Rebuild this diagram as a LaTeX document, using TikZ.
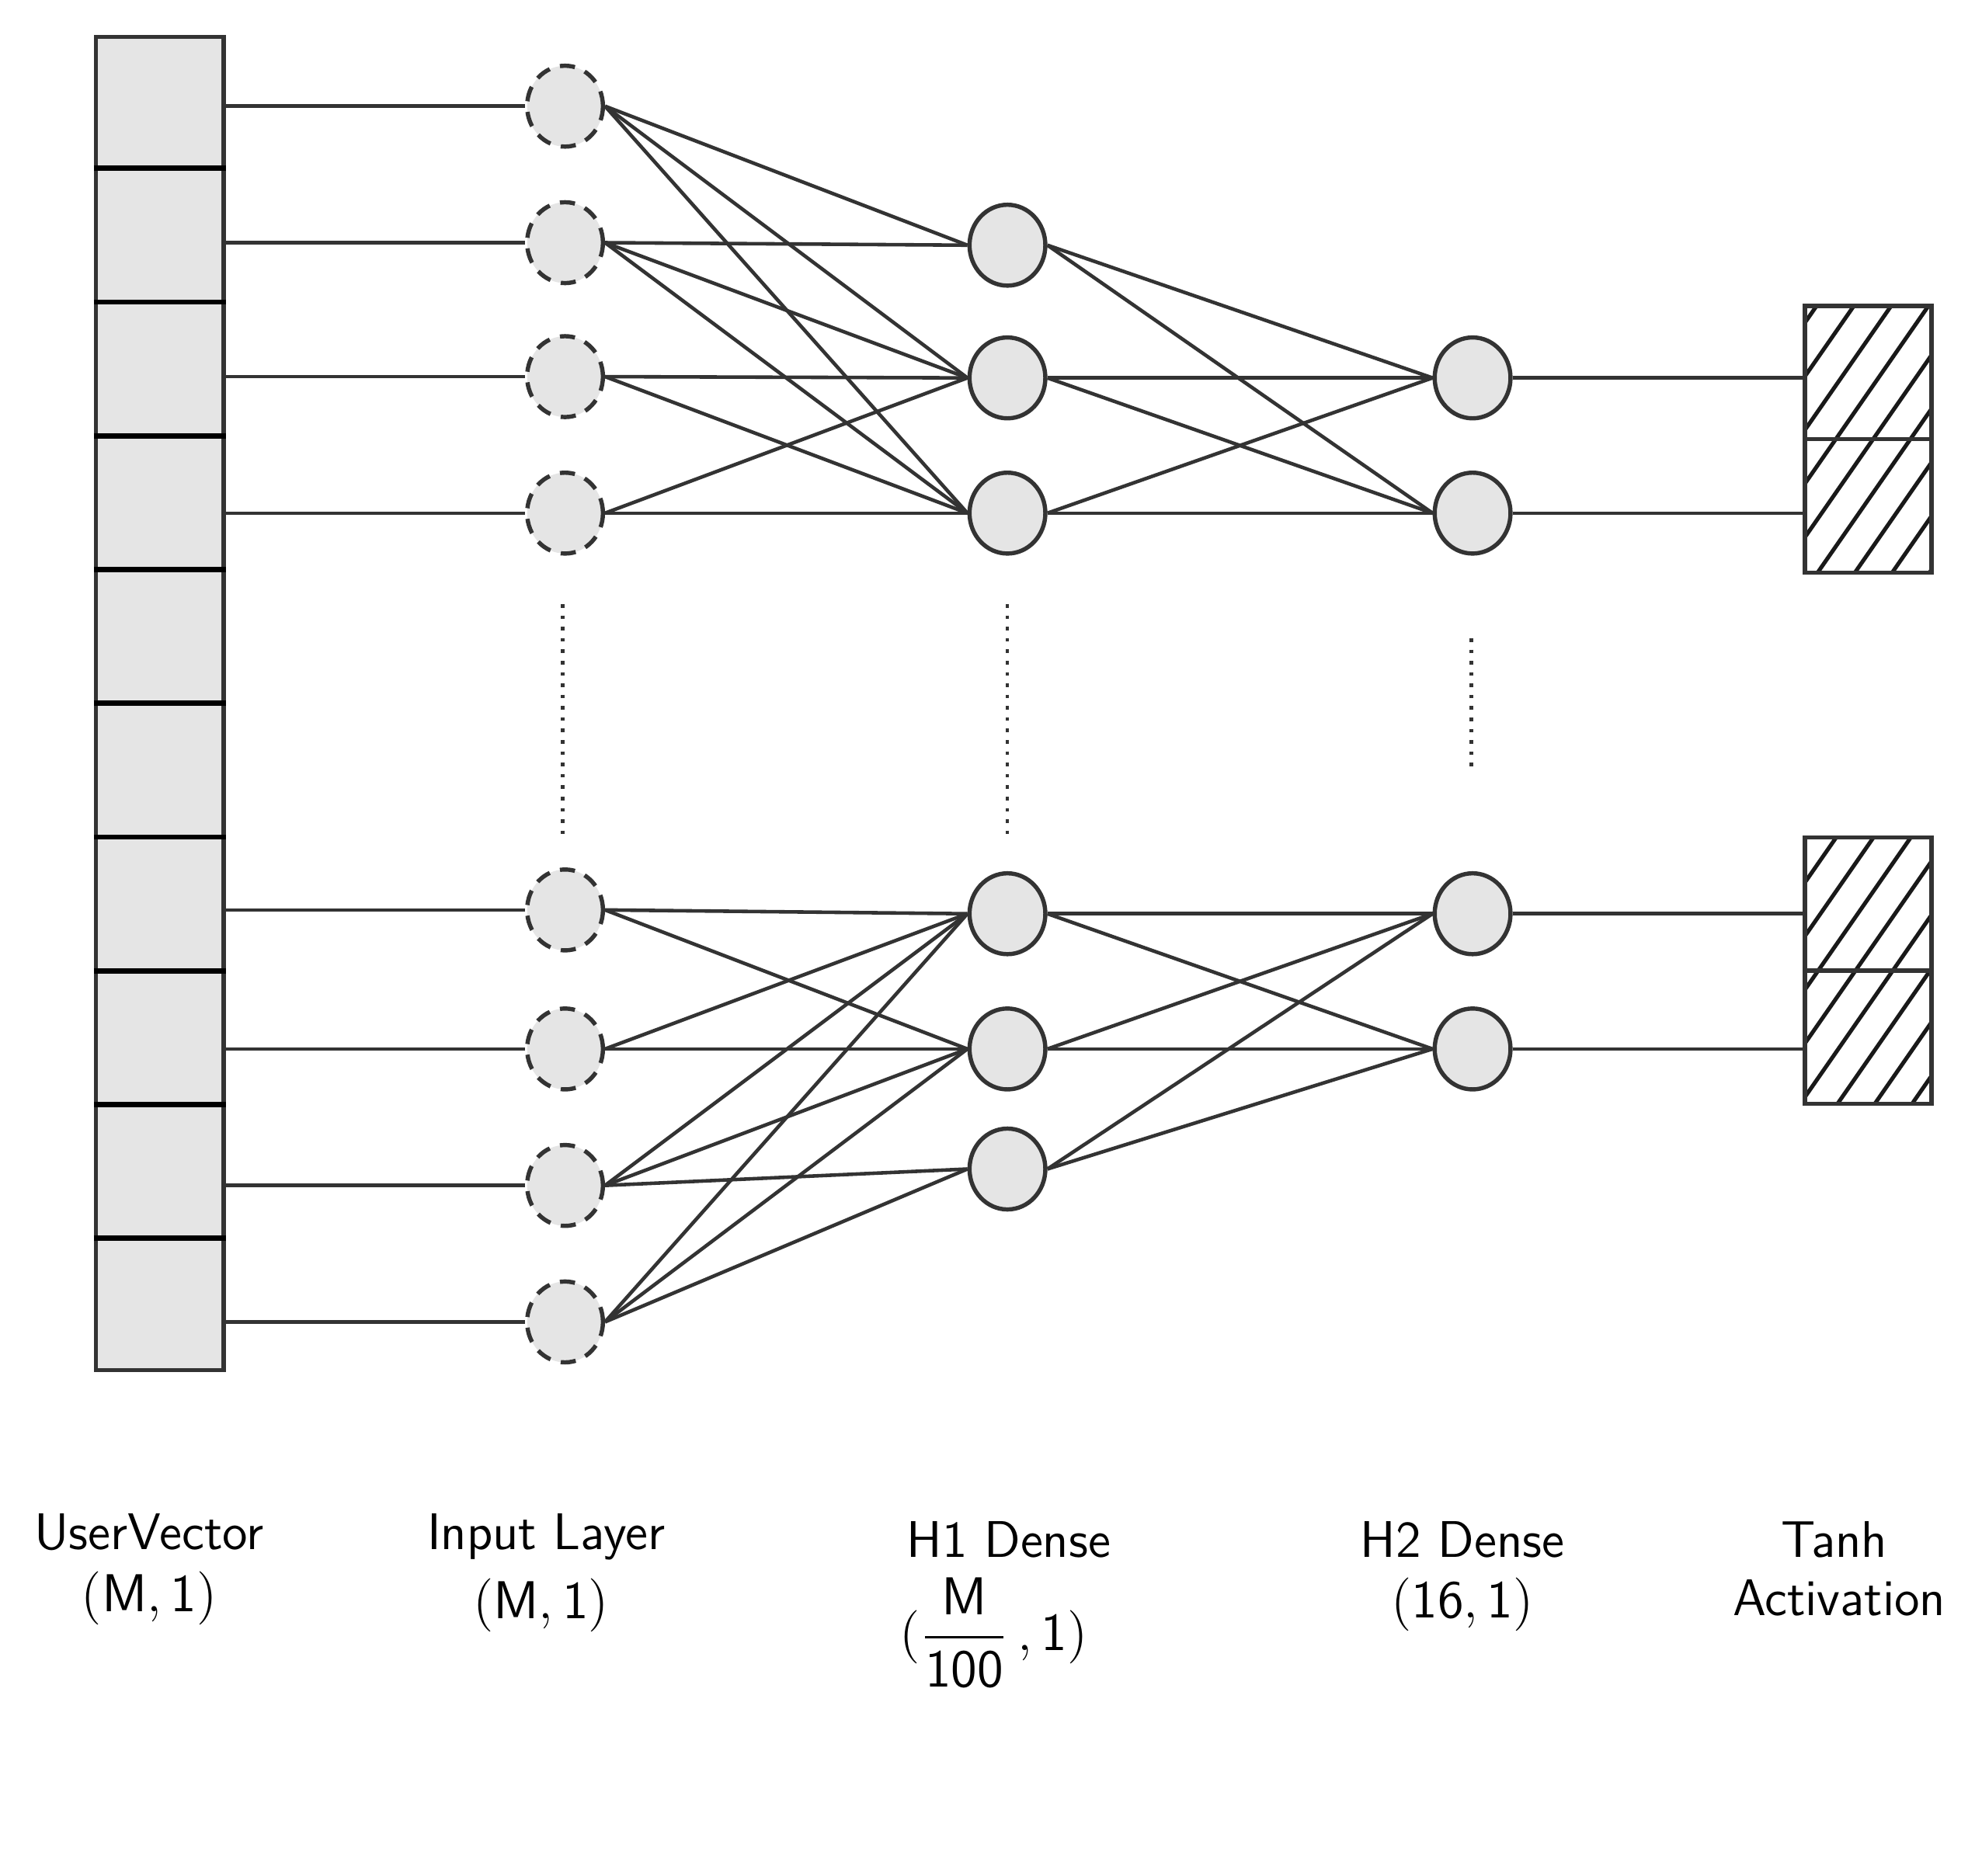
\documentclass[tikz,border=0pt]{standalone}
\usetikzlibrary{shapes.geometric,calc}
\definecolor{lc}{HTML}{333333}
\definecolor{fc}{HTML}{E5E5E5}
\begin{document}
\begin{tikzpicture}[x=0.1mm,y=-0.1mm,
  conn/.style={draw=lc,line width=0.8pt},
  neuron/.style={ellipse,draw=lc,fill=fc,line width=0.95pt,minimum width=6.0mm,minimum height=6.4mm,inner sep=0pt},
  inneuron/.style={neuron,dash pattern=on 3.4pt off 2.4pt},
  dotline/.style={draw=lc,line width=0.8pt,dash pattern=on 0.8pt off 1.75pt},
  lab/.style={font=\sffamily\fontsize{11.6}{14}\selectfont,anchor=base,inner sep=0pt},
  hatchline/.style={draw=black!90,line width=0.9pt},
  hatchbox/.style={rectangle,draw=lc,line width=0.95pt,minimum width=10mm,minimum height=21.1mm,inner sep=0pt,
    path picture={\foreach \k in {-7,...,4}{\draw[hatchline] ($(path picture bounding box.south west)+(\k*2.95mm+#1,0mm)$) -- ++(55.2:30mm);}}},
]
\useasboundingbox (0,0) rectangle (1568,1484);

% UserVector column
\node[rectangle,draw=lc,fill=fc,line width=0.95pt,minimum width=10.1mm,minimum height=105.5mm,inner sep=0pt] (uv) at (126.5,556.5) {};
\foreach \k in {1,...,9}{
  \draw[black,line width=1.15pt] ($(uv.north west)!{\k/10}!(uv.south west)$) -- ($(uv.north east)!{\k/10}!(uv.south east)$);
}

% neurons
\foreach \i/\y in {1/84,2/192,3/298,4/406,5/720,6/830,7/938,8/1046}
  \node[inneuron] (in\i) at (447,\y) {};
\foreach \i/\y in {1/194,2/299,3/406,4/723,5/830,6/925}
  \node[neuron] (ha\i) at (797,\y) {};
\foreach \i/\y in {1/299,2/406,3/723,4/830}
  \node[neuron] (hb\i) at (1165,\y) {};

% output boxes
\node[hatchbox=1mm] (o1) at (1478,347.5) {};
\node[hatchbox=2.56mm] (o2) at (1478,768) {};
\draw[lc,line width=0.95pt] (o1.west) -- (o1.east);
\draw[lc,line width=0.95pt] (o2.west) -- (o2.east);

% vector -> input
\foreach \i in {1,...,8}
  \draw[conn] (in\i.west -| uv.east) -- (in\i.west);

% input -> H1
\foreach \a/\b in {1/1,1/2,1/3,2/1,2/2,2/3,3/2,3/3,4/2,4/3,
                   5/4,5/5,6/4,6/5,7/4,7/5,7/6,8/4,8/5,8/6}
  \draw[conn] (in\a.east) -- (ha\b.west);

% H1 -> H2
\foreach \a/\b in {1/1,1/2,2/1,2/2,3/1,3/2,4/3,4/4,5/3,5/4,6/3,6/4}
  \draw[conn] (ha\a.east) -- (hb\b.west);

% H2 -> output
\draw[conn] (hb1.east) -- (hb1.east -| o1.west);
\draw[conn] (hb2.east) -- (hb2.east -| o1.west);
\draw[conn] (hb3.east) -- (hb3.east -| o2.west);
\draw[conn] (hb4.east) -- (hb4.east -| o2.west);

% ellipsis dots
\coordinate (d1a) at (445,478); \coordinate (d1b) at (445,665);
\coordinate (d2a) at (797,478); \coordinate (d2b) at (797,665);
\coordinate (d3a) at (1164,505); \coordinate (d3b) at (1164,610);
\draw[dotline] (d1a) -- (d1b);
\draw[dotline] (d2a) -- (d2b);
\draw[dotline] (d3a) -- (d3b);

% labels
\node[lab] (l1a) at (118,1226) {UserVector};
\node[lab] (l1b) at (118,1275) {$(\mathsf{M},\mathsf{1})$};
\node[lab] (l2a) at (432,1226) {Input Layer};
\node[lab] (l2b) at (428,1281) {$(\mathsf{M},\mathsf{1})$};
\node[lab] (l3a) at (798,1232) {H1 Dense};
\node[lab] (l3b) at (786,1306) {$({\displaystyle\frac{\mathsf{M}}{\mathsf{100}}}\,,\mathsf{1})$};
\node[lab] (l4a) at (1157,1232) {H2 Dense};
\node[lab] (l4b) at (1157,1280) {$(\mathsf{16},\mathsf{1})$};
\node[lab] (l5a) at (1451,1232) {Tanh};
\node[lab] (l5b) at (1455,1278) {Activation};
\end{tikzpicture}
\end{document}
